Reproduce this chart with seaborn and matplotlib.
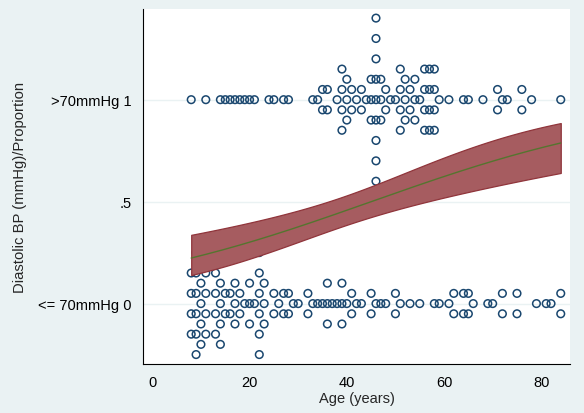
import numpy as np
import pandas as pd
import seaborn as sns
import matplotlib
matplotlib.use("Agg")
import matplotlib.pyplot as plt

# ages and how many subjects sit at each age
high_ages = [8, 11, 14, 15, 16, 17, 18, 19, 20, 21, 24, 25, 27, 28, 33, 34,
             35, 36, 38, 39, 40, 41, 42, 43, 44, 45, 46, 47, 48, 49, 50, 51,
             52, 53, 54, 55, 56, 57, 58, 59, 61, 64, 65, 68, 71, 72, 73, 76,
             78, 84]
high_counts = [1, 1, 1, 1, 1, 1, 1, 1, 1, 1, 1, 1, 1, 1, 1, 1,
               2, 2, 1, 4, 3, 2, 1, 2, 1, 3, 9, 3, 2, 1, 1, 4,
               3, 2, 3, 1, 4, 4, 4, 1, 1, 1, 1, 1, 2, 1, 1, 2,
               1, 1]

low_ages = [8, 9, 10, 11, 13, 14, 15, 16, 17, 18, 19, 20, 21, 22, 23, 25,
            26, 27, 28, 29, 30, 32, 33, 34, 35, 36, 37, 38, 39, 40, 41, 42,
            43, 45, 46, 47, 48, 50, 51, 53, 55, 58, 59, 61, 62, 64, 65, 66,
            69, 70, 72, 75, 79, 81, 82, 84]
low_counts = [4, 6, 5, 4, 4, 5, 2, 2, 3, 2, 1, 3, 1, 6, 3, 2,
              1, 2, 2, 1, 1, 2, 1, 1, 1, 3, 1, 1, 3, 1, 2, 1,
              1, 2, 1, 1, 1, 2, 1, 1, 1, 1, 1, 1, 2, 2, 2, 1,
              1, 1, 2, 2, 1, 1, 1, 2]

y_ticks = [0, 0.5, 1]
y_ticklabels = ["<= 70mmHg 0", ".5", ">70mmHg 1"]
x_ticks = [0, 20, 40, 60, 80]

NAVY = "#1a476f"
MAROON = "#90353b"
GREEN = "#55752f"
BG = "#eaf2f3"


def stack(ages, counts, level, step=0.1):
    """one row per subject, dots stacked symmetrically around the level"""
    rows = []
    for a, n in zip(ages, counts):
        for k in range(n):
            rows.append((a, level, level + (k - (n - 1) / 2) * step))
    return rows


rows = stack(high_ages, high_counts, 1) + stack(low_ages, low_counts, 0)
df = pd.DataFrame(rows, columns=["age", "bp_high", "ypos"])

# logistic fit (IRLS) of bp_high on age, with 95% CI on the logit scale
X = np.column_stack([np.ones(len(df)), df["age"].values])
yv = df["bp_high"].values.astype(float)
beta = np.zeros(2)
for _ in range(50):
    p = 1 / (1 + np.exp(-X @ beta))
    w = p * (1 - p)
    beta = beta + np.linalg.solve(X.T @ (X * w[:, None]), X.T @ (yv - p))
p = 1 / (1 + np.exp(-X @ beta))
cov = np.linalg.inv(X.T @ (X * (p * (1 - p))[:, None]))

grid = np.linspace(df["age"].min(), df["age"].max(), 200)
G = np.column_stack([np.ones_like(grid), grid])
eta = G @ beta
se = np.sqrt(np.einsum("ij,jk,ik->i", G, cov, G))
fit = pd.DataFrame({"age": grid,
                    "p": 1 / (1 + np.exp(-eta)),
                    "lo": 1 / (1 + np.exp(-(eta - 1.96 * se))),
                    "hi": 1 / (1 + np.exp(-(eta + 1.96 * se)))})

sns.set_style("white")
plt.rcParams["font.family"] = ["Liberation Sans", "DejaVu Sans"]

fig = plt.figure(figsize=(5.84, 4.14), dpi=100, facecolor=BG)
ax = fig.add_axes([0.245, 0.118, 0.731, 0.858])
ax.set_facecolor("white")

ax.yaxis.grid(True, color=BG, linewidth=1.0)
ax.set_axisbelow(True)

sns.scatterplot(data=df, x="age", y="ypos", ax=ax, marker="o", s=30,
                facecolor="none", edgecolor=NAVY, linewidth=1.1, zorder=2,
                legend=False)

ax.fill_between(fit["age"], fit["lo"], fit["hi"], facecolor="#a65c60",
                edgecolor=MAROON, linewidth=0.9, zorder=3)
sns.lineplot(data=fit, x="age", y="p", ax=ax, color=GREEN, linewidth=1.0,
             zorder=4)

ax.set_xlim(-1.9, 85.9)
ax.set_ylim(-0.297, 1.445)
ax.set_xticks(x_ticks)
ax.set_yticks(y_ticks)
ax.set_yticklabels(y_ticklabels)
ax.set_xlabel("Age (years)", fontsize=10.5, labelpad=1)
ax.set_ylabel("Diastolic BP (mmHg)/Proportion", fontsize=10.7, labelpad=8)

for side in ["top", "right"]:
    ax.spines[side].set_visible(False)
for side in ["left", "bottom"]:
    ax.spines[side].set_color("#000000")
    ax.spines[side].set_linewidth(0.8)
ax.tick_params(axis="both", direction="out", length=5, width=0.8,
               color="#000000", labelsize=10.5, labelcolor="#000000", pad=3)

fig.savefig("out.png", dpi=100, facecolor=BG)
